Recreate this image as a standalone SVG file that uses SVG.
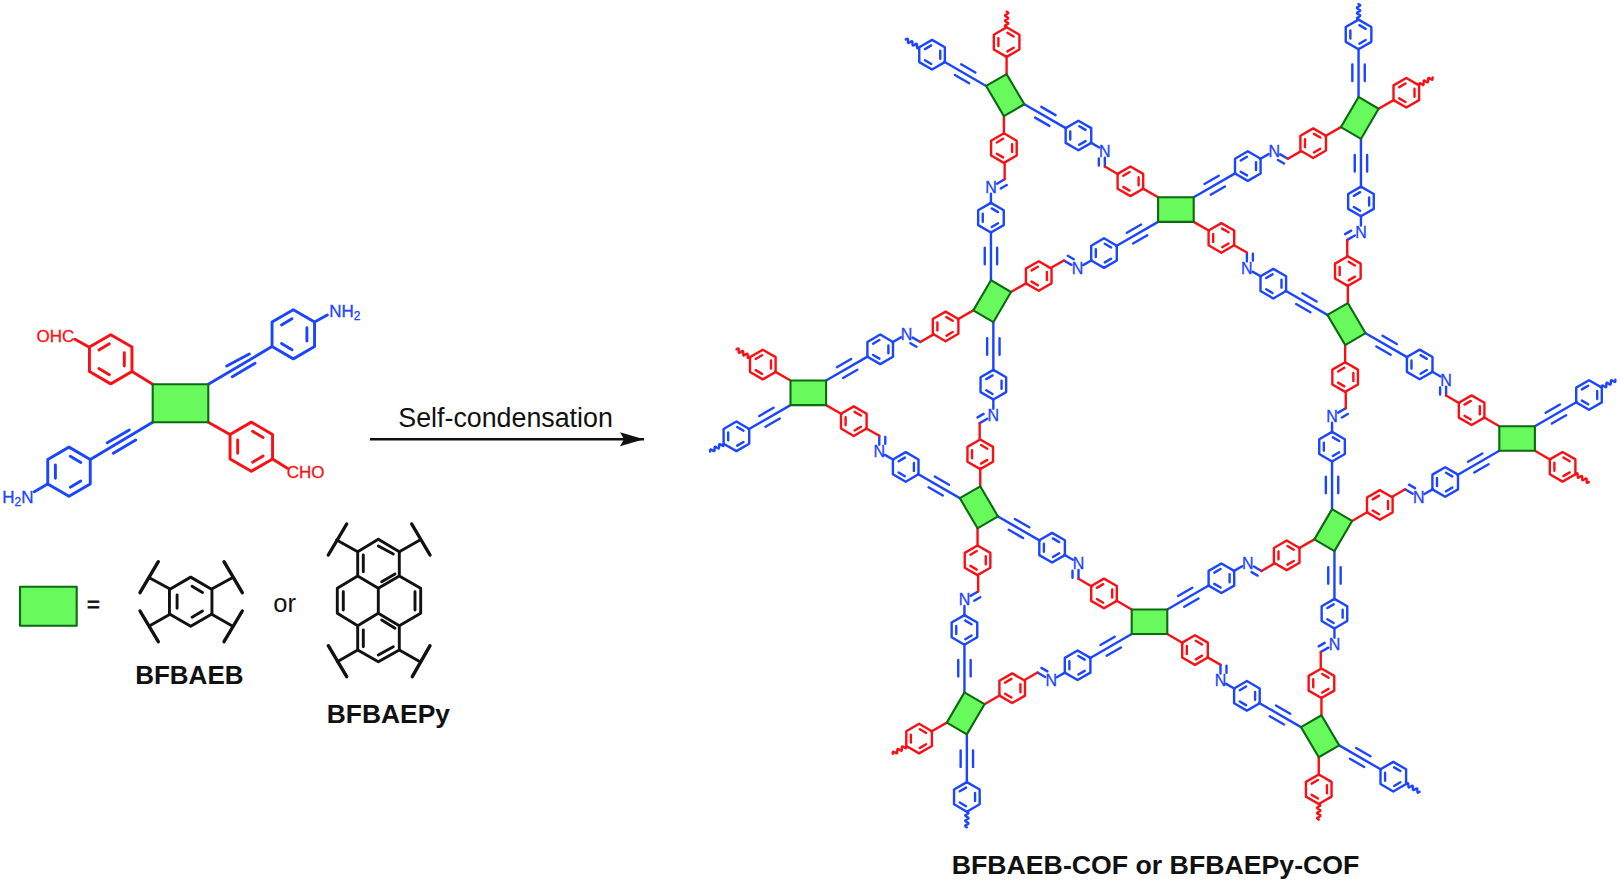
<svg xmlns="http://www.w3.org/2000/svg" xmlns:xlink="http://www.w3.org/1999/xlink" width="1621" height="883" viewBox="0 0 1621 883">
<style>
.r{stroke:#fa0f14}
.b{stroke:#1b45ff}
.k{stroke:#111}
.s{fill:none;stroke-linecap:round;stroke-linejoin:round}
.c{stroke-width:2.4}
.m{stroke-width:2.9}
.sq{fill:#68f95c;stroke:#0b6a12;stroke-width:2.1;stroke-linejoin:round}
text{font-family:"Liberation Sans",Arial,sans-serif}
.nb{fill:#1b45ff;stroke:#1b45ff;stroke-width:.3;font-size:16px;text-anchor:middle}
.lr{fill:#fa0f14;stroke:#fa0f14;stroke-width:.3;font-size:17px}
.lb{fill:#1b45ff;stroke:#1b45ff;stroke-width:.3;font-size:17px}
.sub{font-size:12px}
.t{fill:#111;font-weight:bold}
</style>
<defs>
<g id="ringA" class="s">
<polygon points="0,-14.8 12.8,-7.4 12.8,7.4 0,14.8 -12.8,7.4 -12.8,-7.4"/>
<path d="M8.2,-4V4M-7.1,-5.6L-0.8,-9.3M-7.1,5.6L-0.8,9.3"/>
</g>
<use id="ringB" href="#ringA" transform="rotate(180)"/>
<path id="armR" class="s" d="M0,0H17.8"/>
<path id="armB" class="s" d="M0,0H48.3M16,6.2H32.5M16,-6.2H32.5"/>
<path id="wave" class="s" d="M14.8,0q1.3,-3.4 2.6,0t2.6,0t2.6,0t2.6,0t2.6,0t2.6,0"/>
<g id="imine">
<path class="s b" d="M14.2,0H24M38.4,13.7L34,6.06M32.7,15.83L29.2,9.77"/>
<path class="s r" d="M38.4,13.7H53.7"/>
</g>
<g id="tH" class="c">
<use href="#armR" class="r" transform="translate(-17.8,-12.3) rotate(210)"/>
<use href="#armR" class="r" transform="translate(17.8,12.3) rotate(30)"/>
<use href="#armB" class="b" transform="translate(17.8,-12.3) rotate(-30)"/>
<use href="#armB" class="b" transform="translate(-17.8,12.3) rotate(150)"/>
<use href="#ringA" class="r" x="-45.5" y="-28.3"/>
<use href="#ringB" class="r" x="45.5" y="28.3"/>
<use href="#ringA" class="b" x="71.9" y="-43.5"/>
<use href="#ringB" class="b" x="-71.9" y="43.5"/>
<polygon class="sq" points="-17.8,-12.3 17.8,-12.3 17.8,12.3 -17.8,12.3"/>
</g>
<g id="tA" class="c">
<use href="#armR" class="r" transform="translate(1.35,-21) rotate(-90)"/>
<use href="#armR" class="r" transform="translate(-1.35,21) rotate(90)"/>
<use href="#armB" class="b" transform="translate(19.1,9.15) rotate(30)"/>
<use href="#armB" class="b" transform="translate(-19.1,-9.15) rotate(210)"/>
<use href="#ringB" class="r" x="1.35" y="-53"/>
<use href="#ringA" class="r" x="-1.35" y="53"/>
<use href="#ringB" class="b" x="73.2" y="40.4"/>
<use href="#ringA" class="b" x="-73.2" y="-40.4"/>
<polygon class="sq" points="1.35,-21 19.1,9.15 -1.35,21 -19.1,-9.15"/>
</g>
<g id="tB" class="c">
<use href="#armB" class="b" transform="translate(-1.2,-21) rotate(-90)"/>
<use href="#armB" class="b" transform="translate(1.2,21) rotate(90)"/>
<use href="#armR" class="r" transform="translate(18.85,-9.2) rotate(-30)"/>
<use href="#armR" class="r" transform="translate(-18.85,9.2) rotate(150)"/>
<use href="#ringB" class="b" x="-1.2" y="-83.5"/>
<use href="#ringA" class="b" x="1.2" y="83.5"/>
<use href="#ringA" class="r" x="46.56" y="-25.2"/>
<use href="#ringB" class="r" x="-46.56" y="25.2"/>
<polygon class="sq" points="-1.2,-21 18.85,-9.2 1.2,21 -18.85,9.2"/>
</g>
<marker id="head" markerUnits="userSpaceOnUse" markerWidth="26" markerHeight="16" refX="24" refY="7" orient="auto"><path d="M0,0L24,7L0,14L4,7z" fill="#111"/></marker>
</defs>

<g id="monomer">
<g class="m">
<path class="s r" d="M152.7,384.3L132,371.6M89.3,347.3L75,339.3M208.3,422.3L230,434.4M272.6,459L287.3,468.3"/>
<path class="s b" d="M208.3,384.3L272,346.6M226.7,366L249.3,354M232.3,376.7L255,363.3M315,321.7L327.3,315M152.7,422.3L90.3,459.4M107.3,442.7L129.3,430M113.3,453.3L135.7,440M47.7,484L34.3,491.7"/>
<use href="#ringA" class="r" stroke-width="1.75" transform="translate(110.7,359.3) scale(1.66)"/>
<use href="#ringA" class="b" stroke-width="1.75" transform="translate(293.3,334.3) scale(1.66)"/>
<use href="#ringB" class="r" stroke-width="1.75" transform="translate(251.3,446.7) scale(1.66)"/>
<use href="#ringB" class="b" stroke-width="1.75" transform="translate(69,471.7) scale(1.66)"/>
<polygon class="sq" points="152.7,384.3 208.3,384.3 208.3,422.3 152.7,422.3"/>
</g>
<text class="lr" x="36.6" y="341.7">OHC</text>
<text class="lr" x="286.8" y="477.7">CHO</text>
<text class="lb" x="329.3" y="316.7">NH<tspan class="sub" dy="3">2</tspan></text>
<text class="lb" x="2.2" y="502.7">H<tspan class="sub" dy="3">2</tspan><tspan dy="-3">N</tspan></text>
</g>

<g id="legend">
<rect class="sq" x="20" y="586.7" width="56.7" height="39"/>
<text x="87" y="612.4" font-size="22" fill="#111" stroke="#111" stroke-width=".8">=</text>
<text x="273.3" y="611.7" font-size="25.5" fill="#111">or</text>
<text class="t" x="135.2" y="684" font-size="26">BFBAEB</text>
<text class="t" x="326.8" y="722.7" font-size="26.4">BFBAEPy</text>
</g>

<g id="benzene" class="k m">
<use href="#ringB" stroke-width="1.75" transform="translate(190.7,601.7) scale(1.66)"/>
<path class="s" d="M170,589L149.3,577.7M211.7,589L232.3,577.7M170,614.3L149.3,626M211.7,614.3L232.3,626"/>
<path class="s" stroke-width="3.4" d="M140,592.7L158.3,561.7M224,561.7L242.3,592.7M140,611L158.3,641.7M242.3,611L224,641.7"/>
</g>

<g id="pyrene" class="k m">
<path class="s" d="M378.3,539.3L399.3,551.7V576L378.3,588.3L357.7,576V551.7ZM357.7,576L337.3,588.3V613.3L357.7,625.7L378.3,613.3V588.3M399.3,576L420.7,588.3V613.3L399.3,625.7L378.3,613.3M399.3,625.7V650L378.3,661.7L357.7,650V625.7"/>
<path class="s" d="M363.3,555V571.7M378.3,546L393.3,554M381.7,581.7L395,574M343.3,591.7V610M415,591.7V610M363.3,630V646.7M378.3,655L393.3,646.7M381.7,620L395,628.3"/>
<path class="s" d="M357.7,551.7L336.7,540M399.3,551.7L420,540M357.7,650L337.3,661.7M399.3,650L420,661.7"/>
<path class="s" stroke-width="3.4" d="M328.3,555L346.7,524M411.7,524L430,555M328.3,645.7L346.7,676.7M430,645.7L412.3,676.7"/>
</g>

<g id="reaction">
<path d="M370,439.3H644" stroke="#111" stroke-width="2.4" fill="none" marker-end="url(#head)"/>
<text x="398.3" y="426.7" font-size="26.8" fill="#111">Self-condensation</text>
</g>

<g id="connectors" class="c">
<g id="links">
<use href="#imine" transform="translate(1078.45,135.5) rotate(30)"/><text class="nb" x="1104.9" y="156.5">N</text>
<use href="#imine" transform="translate(990.95,217.7) rotate(-90)"/><text class="nb" x="990.95" y="193">N</text>
<use href="#imine" transform="translate(1104,253.1) rotate(150)"/><text class="nb" x="1077.6" y="274.1">N</text>
<use href="#imine" transform="translate(1273.3,283.65) rotate(210)"/><text class="nb" x="1246.9" y="274.2">N</text>
<use href="#imine" transform="translate(1247.8,166.1) rotate(-30)"/><text class="nb" x="1274.2" y="156.6">N</text>
<use href="#imine" transform="translate(1360.95,201.45) rotate(90)"/><text class="nb" x="1360.95" y="237.7">N</text>
<use href="#imine" transform="translate(880.2,349.35) rotate(-30)"/><text class="nb" x="906.6" y="339.9">N</text>
<use href="#imine" transform="translate(993.35,384.7) rotate(90)"/><text class="nb" x="993.35" y="421">N</text>
<use href="#imine" transform="translate(905.7,466.9) rotate(210)"/><text class="nb" x="879.3" y="457.4">N</text>
<use href="#imine" transform="translate(1419.7,364.45) rotate(30)"/><text class="nb" x="1446.1" y="385.5">N</text>
<use href="#imine" transform="translate(1332.05,446.65) rotate(-90)"/><text class="nb" x="1332.05" y="421.9">N</text>
<use href="#imine" transform="translate(1445.2,482) rotate(150)"/><text class="nb" x="1418.8" y="503">N</text>
<use href="#imine" transform="translate(1052.1,547.7) rotate(30)"/><text class="nb" x="1078.5" y="568.7">N</text>
<use href="#imine" transform="translate(964.45,629.9) rotate(-90)"/><text class="nb" x="964.45" y="605.2">N</text>
<use href="#imine" transform="translate(1221.4,578.25) rotate(-30)"/><text class="nb" x="1247.8" y="568.8">N</text>
<use href="#imine" transform="translate(1334.45,613.65) rotate(90)"/><text class="nb" x="1334.45" y="649.9">N</text>
<use href="#imine" transform="translate(1246.9,695.85) rotate(210)"/><text class="nb" x="1220.5" y="686.4">N</text>
<use href="#imine" transform="translate(1077.6,665.25) rotate(150)"/><text class="nb" x="1051.2" y="686.3">N</text>
</g>
<g id="ends">
<use href="#wave" class="r" transform="translate(1006.6,42.1) rotate(-90)"/>
<use href="#wave" class="b" transform="translate(932.05,54.7) rotate(210)"/>
<use href="#wave" class="b" transform="translate(1358.55,34.45) rotate(-90)"/>
<use href="#wave" class="r" transform="translate(1406.3,92.75) rotate(-30)"/>
<use href="#wave" class="r" transform="translate(762.8,364.55) rotate(210)"/>
<use href="#wave" class="b" transform="translate(736.4,436.35) rotate(150)"/>
<use href="#wave" class="b" transform="translate(1589,395) rotate(-30)"/>
<use href="#wave" class="r" transform="translate(1562.6,466.8) rotate(30)"/>
<use href="#wave" class="r" transform="translate(919.1,738.6) rotate(150)"/>
<use href="#wave" class="b" transform="translate(966.85,796.9) rotate(90)"/>
<use href="#wave" class="r" transform="translate(1318.75,789.25) rotate(90)"/>
<use href="#wave" class="b" transform="translate(1393.3,776.65) rotate(30)"/>
</g>
</g>

<g id="u1" transform="translate(1005.25,95.1)"><use href="#tA"/></g>
<g id="u2" transform="translate(1175.9,209.6)"><use href="#tH"/></g>
<g id="u3" transform="translate(1359.75,117.95)"><use href="#tB"/></g>
<g id="u4" transform="translate(992.15,301.2)"><use href="#tB"/></g>
<g id="u5" transform="translate(1346.5,324.05)"><use href="#tA"/></g>
<g id="u6" transform="translate(808.3,392.85)"><use href="#tH"/></g>
<g id="u7" transform="translate(1517.1,438.5)"><use href="#tH"/></g>
<g id="u8" transform="translate(978.9,507.3)"><use href="#tA"/></g>
<g id="u9" transform="translate(1333.25,530.15)"><use href="#tB"/></g>
<g id="u10" transform="translate(1149.5,621.75)"><use href="#tH"/></g>
<g id="u11" transform="translate(965.65,713.4)"><use href="#tB"/></g>
<g id="u12" transform="translate(1320.1,736.25)"><use href="#tA"/></g>

<text class="t" x="951.7" y="874" font-size="26.7">BFBAEB-COF or BFBAEPy-COF</text>
</svg>
